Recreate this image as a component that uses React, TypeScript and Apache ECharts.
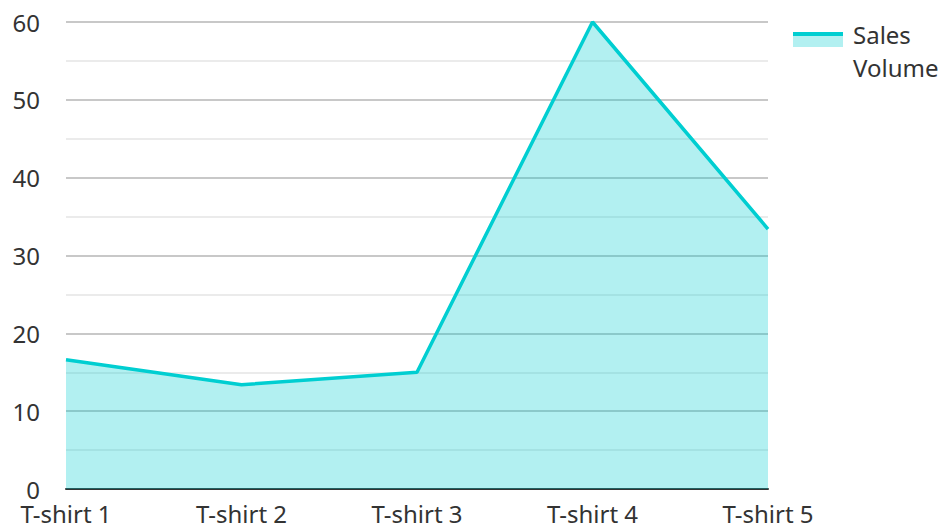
import React, { useEffect, useRef } from "react";
import * as echarts from "echarts";

const categories = ["T-shirt 1", "T-shirt 2", "T-shirt 3", "T-shirt 4", "T-shirt 5"];
const salesVolume = [16.6, 13.4, 15.0, 60, 33.4];
const seriesName = "Sales Volume";

export default function App() {
  const ref = useRef<HTMLDivElement>(null);
  useEffect(() => {
    const chart = echarts.init(ref.current!, null, { renderer: "svg" });
    const font = "'Noto Sans', 'Open Sans', sans-serif";
    chart.setOption({
      animation: false,
      textStyle: { fontFamily: font },
      grid: { left: 66, right: 174, top: 22, bottom: 40, containLabel: false },
      legend: {
        orient: "vertical",
        left: 793,
        top: 13,
        itemWidth: 50,
        itemHeight: 14,
        itemGap: 10,
        icon: "rect",
        itemStyle: { opacity: 0 },
        formatter: () => "Sales\nVolume",
        textStyle: { fontSize: 24, color: "#333", fontFamily: font, lineHeight: 33 },
        data: [seriesName],
      },
      graphic: [
        { type: "rect", left: 793, top: 36, shape: { width: 50, height: 11 }, style: { fill: "#B2F0F1" }, silent: true },
        { type: "rect", left: 793, top: 32, shape: { width: 50, height: 4 }, style: { fill: "#00CED1" }, silent: true },
      ],
      xAxis: {
        type: "category",
        data: categories,
        boundaryGap: false,
        axisLine: { show: true, lineStyle: { color: "#333", width: 2 } },
        axisTick: { show: false },
        axisLabel: { color: "#333", fontSize: 24, lineHeight: 24, margin: 12, fontFamily: font },
        splitLine: { show: false },
      },
      yAxis: {
        type: "value",
        min: 0,
        max: 60,
        interval: 10,
        axisLine: { show: false },
        axisTick: { show: false },
        axisLabel: { color: "#333", fontSize: 24, margin: 26, fontFamily: font },
        splitLine: { show: true, lineStyle: { color: "#c8c8c8", width: 2 } },
        minorTick: { show: false, splitNumber: 2 },
        minorSplitLine: { show: true, lineStyle: { color: "#ebebeb", width: 2 } },
      },
      series: [
        {
          name: seriesName,
          type: "line",
          data: salesVolume,
          symbol: "none",
          lineStyle: { color: "#00CED1", width: 3.5 },
          itemStyle: { color: "#00CED1" },
          areaStyle: { color: "#00CED1", opacity: 0.3 },
        },
      ],
    });
    return () => chart.dispose();
  }, []);
  return <div ref={ref} style={{ width: 942, height: 529, position: "absolute", left: 0, top: 0 }} />;
}
